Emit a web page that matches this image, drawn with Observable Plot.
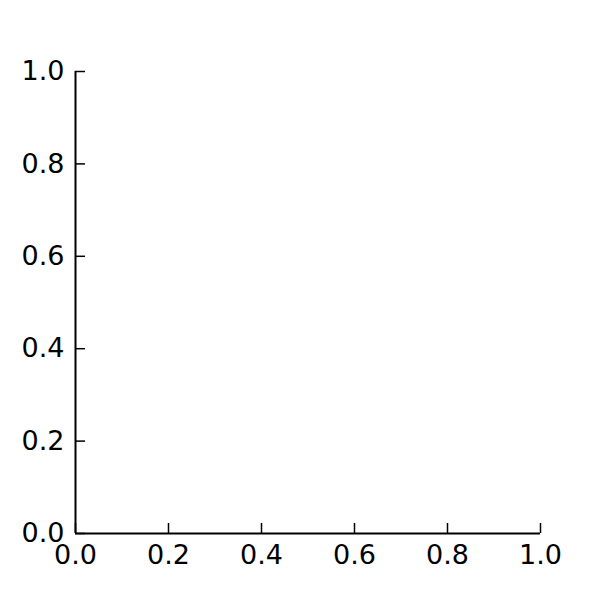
<!DOCTYPE html>
<html>
<head>
<meta charset="utf-8">
<script src="https://cdn.jsdelivr.net/npm/d3@7"></script>
<script src="https://cdn.jsdelivr.net/npm/@observablehq/plot@0.6"></script>
<style>
  html, body { margin: 0; padding: 0; background: #fff; }
</style>
</head>
<body>
<div id="chart"></div>
<script>
const xDomain = [0, 1];
const yDomain = [0, 1];
const xTicks = [0, 0.2, 0.4, 0.6, 0.8, 1.0];
const yTicks = [0, 0.2, 0.4, 0.6, 0.8, 1.0];
const tickFormat = d3.format(".1f");

const chart = Plot.plot({
  width: 600,
  height: 600,
  marginLeft: 75,
  marginRight: 60,
  marginTop: 71,
  marginBottom: 67,
  style: { fontFamily: "DejaVu Sans", fontSize: "27px", color: "#000", background: "#fff" },
  x: { domain: xDomain },
  y: { domain: yDomain },
  marks: [
    Plot.axisX(xTicks, { tickSize: -10, strokeWidth: 1.5, text: null, label: null }),
    Plot.axisX(xTicks, { tickSize: 0, tickPadding: 11, tickFormat, label: null, fontSize: 27 }),
    Plot.axisY(yTicks, { tickSize: -10, strokeWidth: 1.5, text: null, label: null }),
    Plot.axisY(yTicks, { tickSize: 0, tickPadding: 11, tickFormat, label: null, fontSize: 27 }),
    Plot.ruleX([xDomain[0]], { stroke: "#000", strokeWidth: 2 }),
    Plot.ruleY([yDomain[0]], { stroke: "#000", strokeWidth: 2 })
  ]
});
document.getElementById("chart").appendChild(chart);
</script>
</body>
</html>
